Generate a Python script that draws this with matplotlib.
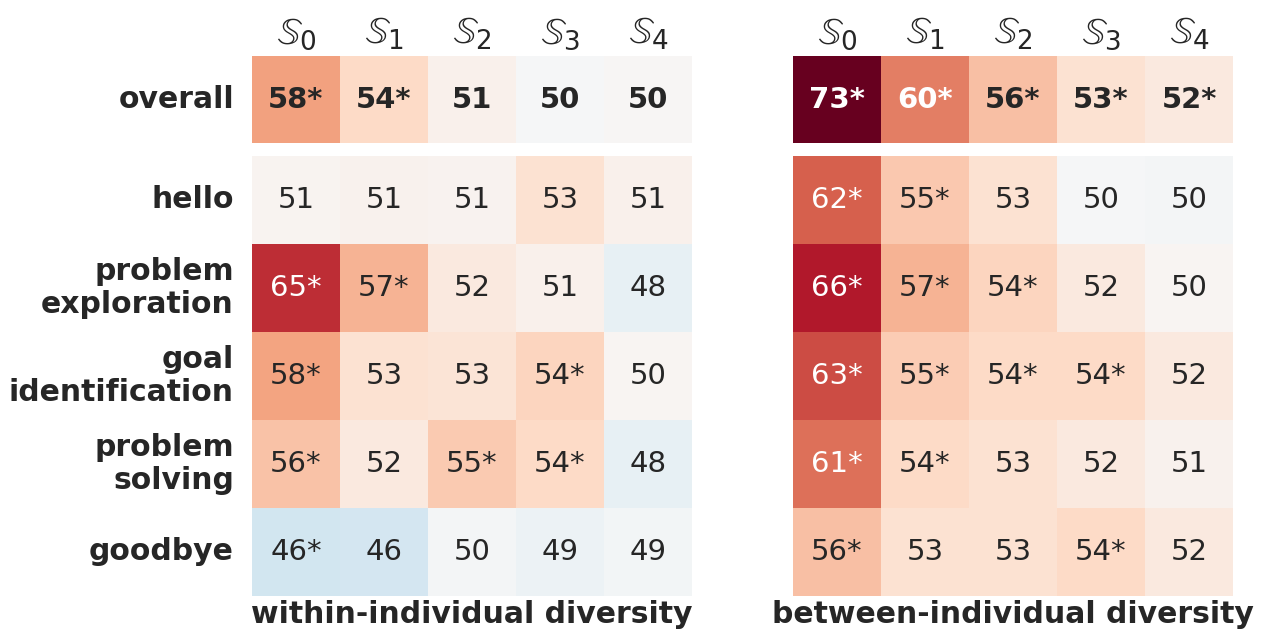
import numpy as np
import matplotlib
matplotlib.use("Agg")
import matplotlib.pyplot as plt
import seaborn as sns

sns.set_theme(style="white")
plt.rcParams['font.family'] = ['DejaVu Sans']

# column / row labels
strategies = [r"$\mathbb{S}_0$", r"$\mathbb{S}_1$", r"$\mathbb{S}_2$", r"$\mathbb{S}_3$", r"$\mathbb{S}_4$"]
phases = ["hello", "problem\nexploration", "goal\nidentification", "problem\nsolving", "goodbye"]

# within-individual diversity
within_overall = [58.2, 54.0, 51.0, 49.7, 50.3]
within_overall_sig = [1, 1, 0, 0, 0]
within_phase = [
    [50.6, 50.8, 50.7, 53.0, 51.0],
    [64.8, 57.0, 52.0, 51.0, 48.3],
    [58.0, 53.0, 52.8, 54.4, 50.4],
    [55.8, 52.0, 55.3, 54.0, 48.3],
    [46.2, 46.3, 49.6, 48.8, 49.4],
]
within_phase_sig = [
    [0, 0, 0, 0, 0],
    [1, 1, 0, 0, 0],
    [1, 0, 0, 1, 0],
    [1, 0, 1, 1, 0],
    [1, 0, 0, 0, 0],
]

# between-individual diversity
between_overall = [73.0, 60.2, 56.0, 53.0, 52.0]
between_overall_sig = [1, 1, 1, 1, 1]
between_phase = [
    [62.0, 55.4, 53.0, 49.8, 49.6],
    [66.0, 57.0, 54.4, 52.0, 50.4],
    [63.0, 55.0, 54.0, 54.0, 52.0],
    [61.0, 54.0, 53.0, 52.0, 50.8],
    [56.0, 53.0, 53.0, 54.0, 52.0],
]
between_phase_sig = [
    [1, 1, 0, 0, 0],
    [1, 1, 1, 0, 0],
    [1, 1, 1, 1, 0],
    [1, 1, 0, 0, 0],
    [1, 0, 0, 1, 0],
]


def labels(vals, sig):
    v = np.atleast_2d(vals)
    s = np.atleast_2d(sig)
    return np.array([[f"{round(a):d}" + ("*" if b else "") for a, b in zip(r1, r2)]
                     for r1, r2 in zip(v, s)])


W, H = 1266, 641
fig = plt.figure(figsize=(W / 100, H / 100), dpi=100)

fs = 21.5
fs_annot = 21
txt = "#262626"
kw = dict(cmap="RdBu_r", vmin=30, vmax=70, center=50, cbar=False)

panels = [
    (252, within_overall, within_overall_sig, within_phase, within_phase_sig,
     "within-individual diversity", True),
    (793, between_overall, between_overall_sig, between_phase, between_phase_sig,
     "between-individual diversity", False),
]

for x0, ov, ovs, ph, phs, title, show_rows in panels:
    ax_top = fig.add_axes([x0 / W, 1 - 143 / H, 440 / W, 87 / H])
    ax_bot = fig.add_axes([x0 / W, 1 - 596 / H, 440 / W, 440 / H])

    sns.heatmap(np.atleast_2d(ov), ax=ax_top, annot=labels(ov, ovs), fmt="",
                annot_kws=dict(fontsize=fs_annot, fontweight="bold"), **kw)
    sns.heatmap(np.array(ph), ax=ax_bot, annot=labels(ph, phs), fmt="",
                annot_kws=dict(fontsize=fs_annot), **kw)

    ax_top.xaxis.tick_top()
    ax_top.set_xticklabels(strategies, fontsize=27, color=txt)
    ax_top.tick_params(axis="x", length=0, pad=3)
    ax_bot.set_xticks([])
    ax_bot.set_xlabel(title, fontsize=fs, fontweight="bold", color=txt, labelpad=3)

    if show_rows:
        ax_top.set_yticklabels(["overall"], rotation=0, fontsize=fs, fontweight="bold",
                               color=txt, va="center")
        ax_bot.set_yticklabels(phases, rotation=0, fontsize=fs, fontweight="bold",
                               color=txt, va="center", ha="right")
        ax_top.tick_params(axis="y", length=0, pad=13)
        ax_bot.tick_params(axis="y", length=0, pad=13)
    else:
        ax_top.set_yticks([])
        ax_bot.set_yticks([])

fig.savefig("out.png", dpi=100)
